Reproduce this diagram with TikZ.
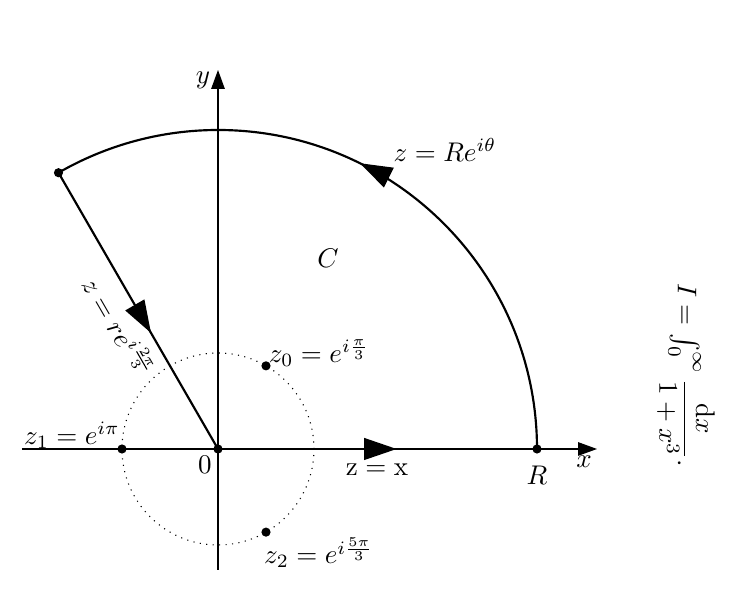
\documentclass[tikz,border=0pt]{standalone}
\usetikzlibrary{arrows.meta,decorations.markings}
\begin{document}
\begin{tikzpicture}[x=0.3704pt,y=0.3704pt,
  axis/.style={line width=0.4pt,-{Triangle[length=7pt,width=5pt]}},
  contour/.style={line width=0.8pt},
  midarrow/.style={postaction={decorate},decoration={markings,mark=at position #1 with {\arrow{Triangle[length=12pt,width=8pt]}}}},
  pt/.style={circle,fill=black,inner sep=0pt,minimum size=3.4pt}]
\useasboundingbox (-218,-152) rectangle (520,449);
% axes
\coordinate (xs) at (-196,0);
\coordinate (xe) at (379,0);
\coordinate (ys) at (0,-121);
\coordinate (ye) at (0,379);
\draw[axis] (xs) -- (xe);
\draw[axis] (ys) -- (ye);
\node (xl) at (366,-13) {$x$};
\node (yl) at (-15,369) {$y$};
% unit circle
\draw[dotted,line width=0.4pt] (0,0) circle[radius=96];
% contour
\coordinate (O) at (0,0);
\coordinate (Rp) at (319,0);
\coordinate (T) at (120:319);
\draw[contour,midarrow=0.56] (O) -- (Rp);
\draw[contour,midarrow=0.53] (Rp) arc[start angle=0,end angle=120,radius=319];
\draw[contour,midarrow=0.58] (T) -- (O);
% points
\node[pt] (pO) at (O) {};
\node[pt] (pR) at (Rp) {};
\node[pt] (pT) at (T) {};
\node[pt] (z0) at (60:96) {};
\node[pt] (z1) at (180:96) {};
\node[pt] (z2) at (-60:96) {};
% labels
\node (l0) at (-13,-16) {$0$};
\node (lR) at (319,-26) {$R$};
\node (lC) at (110,191) {$C$};
\node (lx) at (159,-21) {$\mathrm{z} = \mathrm{x}$};
\node (lRe) at (227,299) {$z = Re^{i\theta}$};
\node (lz0) at (101,96) {$z_0 = e^{i\frac{\pi}{3}}$};
\node (lz2) at (101,-104) {$z_2 = e^{i\frac{5\pi}{3}}$};
\node (lz1) at (-146,14) {$z_1 = e^{i\pi}$};
\node[rotate=-60] (lr) at (-98,123) {$z = re^{i\frac{2\pi}{3}}$};
\node[rotate=-90] (I) at (468,74) {$I = \int_0^\infty {\displaystyle\frac{\mathrm{d}x}{1+x^3}}.$};
\end{tikzpicture}
\end{document}
